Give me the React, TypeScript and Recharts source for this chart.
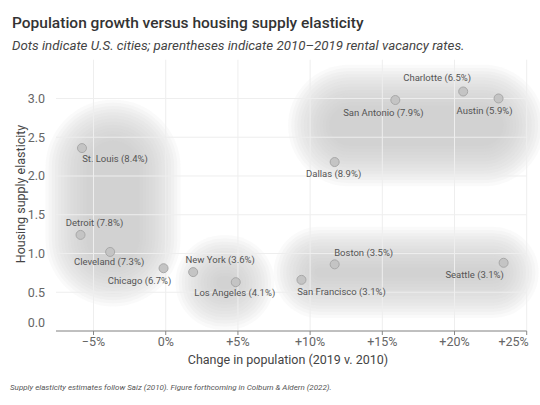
import { ScatterChart, Scatter, XAxis, YAxis, ReferenceArea, ReferenceLine, Label } from 'recharts'

const CITIES = [
  'St. Louis', 'Detroit', 'Cleveland', 'Chicago', 'New York', 'Los Angeles',
  'San Francisco', 'Boston', 'Seattle', 'Dallas', 'San Antonio', 'Charlotte', 'Austin',
]
const VACANCY = [8.4, 7.8, 7.3, 6.7, 3.6, 4.1, 3.1, 3.5, 3.1, 8.9, 7.9, 6.5, 5.9]
const POP_CHANGE = [-5.8, -5.9, -3.85, -0.15, 1.9, 4.85, 9.4, 11.7, 23.4, 11.7, 15.9, 20.6, 23.05]
const ELASTICITY = [2.36, 1.24, 1.02, 0.81, 0.76, 0.63, 0.66, 0.86, 0.88, 2.18, 2.98, 3.09, 3.0]

const X_TICKS = [-5, 0, 5, 10, 15, 20, 25]
const Y_TICKS = [0, 0.5, 1, 1.5, 2, 2.5, 3]

// visible axis extent; the plot area is a bit larger so the shading can spill past it
const X_RANGE = [-7.6, 25]
const Y_RANGE = [0, 3.5]
const X_DOMAIN = [-8.43, 25.92]
const Y_DOMAIN = [0, 3.69]

// where each city label sits relative to its dot, px [dx, dy]
const LABEL_OFFSETS = [
  [33, 11], [14, -12], [-1, 10], [-24, 12], [27, -12], [-1, 11],
  [40, 12], [29, -12], [-29, 12], [-1, 12], [-12, 13], [-26, -14], [-14, 12],
]

// shaded clusters in data units [x1, x2, y1, y2]
const CLUSTERS = [
  [-6.8, -0.5, 0.6, 2.7],
  [2.2, 6.0, 0.3, 0.95],
  [10.0, 24.7, 2.15, 3.15],
  [9.0, 24.3, 0.45, 1.06],
]

const FONT = 'Roboto, "Noto Sans", sans-serif'

const data = CITIES.map((c, i) => ({
  x: POP_CHANGE[i],
  y: ELASTICITY[i],
  label: `${c} (${VACANCY[i].toFixed(1)}%)`,
  dx: LABEL_OFFSETS[i][0],
  dy: LABEL_OFFSETS[i][1],
}))

function fmtX(v: number) {
  if (v === 0) return '0%'
  return v > 0 ? `+${v}%` : `\u2212${Math.abs(v)}%`
}

function XTick(props: any) {
  const { x, y, payload } = props
  const last = payload.value === X_TICKS[X_TICKS.length - 1]
  return (
    <text x={last ? x + 2 : x} y={y} dy={9} textAnchor={last ? 'end' : 'middle'} fontSize={12.5} fill="#666" fontFamily={FONT}>
      {fmtX(payload.value)}
    </text>
  )
}

function YTick(props: any) {
  const { x, y, payload } = props
  const first = payload.value === 0
  return (
    <text x={x + 7} y={first ? y - 8 : y} dy="0.35em" textAnchor="end" fontSize={12.5} fill="#666" fontFamily={FONT}>
      {payload.value.toFixed(1)}
    </text>
  )
}

// soft-edged shading: stacked translucent stadiums, wider ones fainter
const BLOB_LAYERS = 14
const BLOB_SPREAD = 22

function Blob(props: any) {
  const { x, y, width, height } = props
  const layers = []
  for (let k = 0; k < BLOB_LAYERS; k++) {
    const inset = -BLOB_SPREAD + (k * 2 * BLOB_SPREAD) / BLOB_LAYERS
    const w = width - 2 * inset
    const h = height - 2 * inset
    if (w <= 2 || h <= 2) continue
    layers.push(
      <rect key={k} x={x + inset} y={y + inset} width={w} height={h} rx={Math.min(w, h) / 2}
        fill="#c6c6c6" fillOpacity={0.085} />
    )
  }
  return <g>{layers}</g>
}

function CityDot(props: any) {
  const { cx, cy, payload } = props
  return (
    <g>
      <circle cx={cx} cy={cy} r={4.5} fill="#c4c4c4" stroke="#a8a8a8" strokeWidth={1} />
      <text x={cx + payload.dx} y={cy + payload.dy} dy="0.35em" textAnchor="middle" fontSize={9.5} fill="#555" fontFamily={FONT}>
        {payload.label}
      </text>
    </g>
  )
}

export default function App() {
  return (
    <div style={{ position: 'absolute', left: 0, top: 0, width: 540, height: 405, background: '#fff', fontFamily: FONT }}>
      <div style={{ position: 'absolute', left: 12, top: 14.5, fontSize: 15.5, lineHeight: '16px', fontWeight: 500, color: '#333', whiteSpace: 'nowrap' }}>
        Population growth versus housing supply elasticity
      </div>
      <div style={{ position: 'absolute', left: 12, top: 38.5, fontSize: 13.3, lineHeight: '13.5px', fontStyle: 'italic', color: '#444', whiteSpace: 'nowrap' }}>
        Dots indicate U.S. cities; parentheses indicate 2010–2019 rental vacancy rates.
      </div>
      <ScatterChart width={540} height={405} margin={{ top: 45, right: 0, bottom: 0, left: 0 }}>
        {X_TICKS.map(t => (
          <ReferenceLine key={'gx' + t} segment={[{ x: t, y: Y_RANGE[0] }, { x: t, y: Y_RANGE[1] }]} stroke="#eeeeee" ifOverflow="visible" />
        ))}
        {Y_TICKS.map(t => (
          <ReferenceLine key={'gy' + t} segment={[{ x: X_RANGE[0], y: t }, { x: X_RANGE[1], y: t }]} stroke="#eeeeee" ifOverflow="visible" />
        ))}
        {CLUSTERS.map((c, i) => (
          <ReferenceArea key={i} x1={c[0]} x2={c[1]} y1={c[2]} y2={c[3]} ifOverflow="visible" shape={Blob} />
        ))}
        <ReferenceLine segment={[{ x: X_RANGE[0], y: 0 }, { x: X_RANGE[1], y: 0 }]} stroke="#888" ifOverflow="visible" />
        <XAxis
          type="number"
          dataKey="x"
          domain={X_DOMAIN}
          ticks={X_TICKS}
          height={74}
          axisLine={false}
          stroke="#888"
          tickSize={4}
          tick={<XTick />}
        >
          <Label value="Change in population (2019 v. 2010)" position="insideTop" offset={24} fontSize={12.5} fill="#444" fontFamily={FONT} dx={-4} />
        </XAxis>
        <YAxis
          type="number"
          dataKey="y"
          domain={Y_DOMAIN}
          ticks={Y_TICKS}
          width={44}
          axisLine={false}
          tickLine={false}
          tickMargin={0}
          tick={<YTick />}
        >
          <Label value="Housing supply elasticity" angle={-90} position="insideLeft" offset={21} fontSize={12.5} fill="#444" fontFamily={FONT} style={{ textAnchor: 'middle' }} dy={6} />
        </YAxis>
        <Scatter data={data} shape={CityDot} isAnimationActive={false} />
      </ScatterChart>
      <div style={{ position: 'absolute', left: 10, top: 383.5, fontSize: 8, lineHeight: '8px', fontStyle: 'italic', color: '#555', whiteSpace: 'nowrap' }}>
        Supply elasticity estimates follow Saiz (2010). Figure forthcoming in Colburn &amp; Aldern (2022).
      </div>
    </div>
  )
}
